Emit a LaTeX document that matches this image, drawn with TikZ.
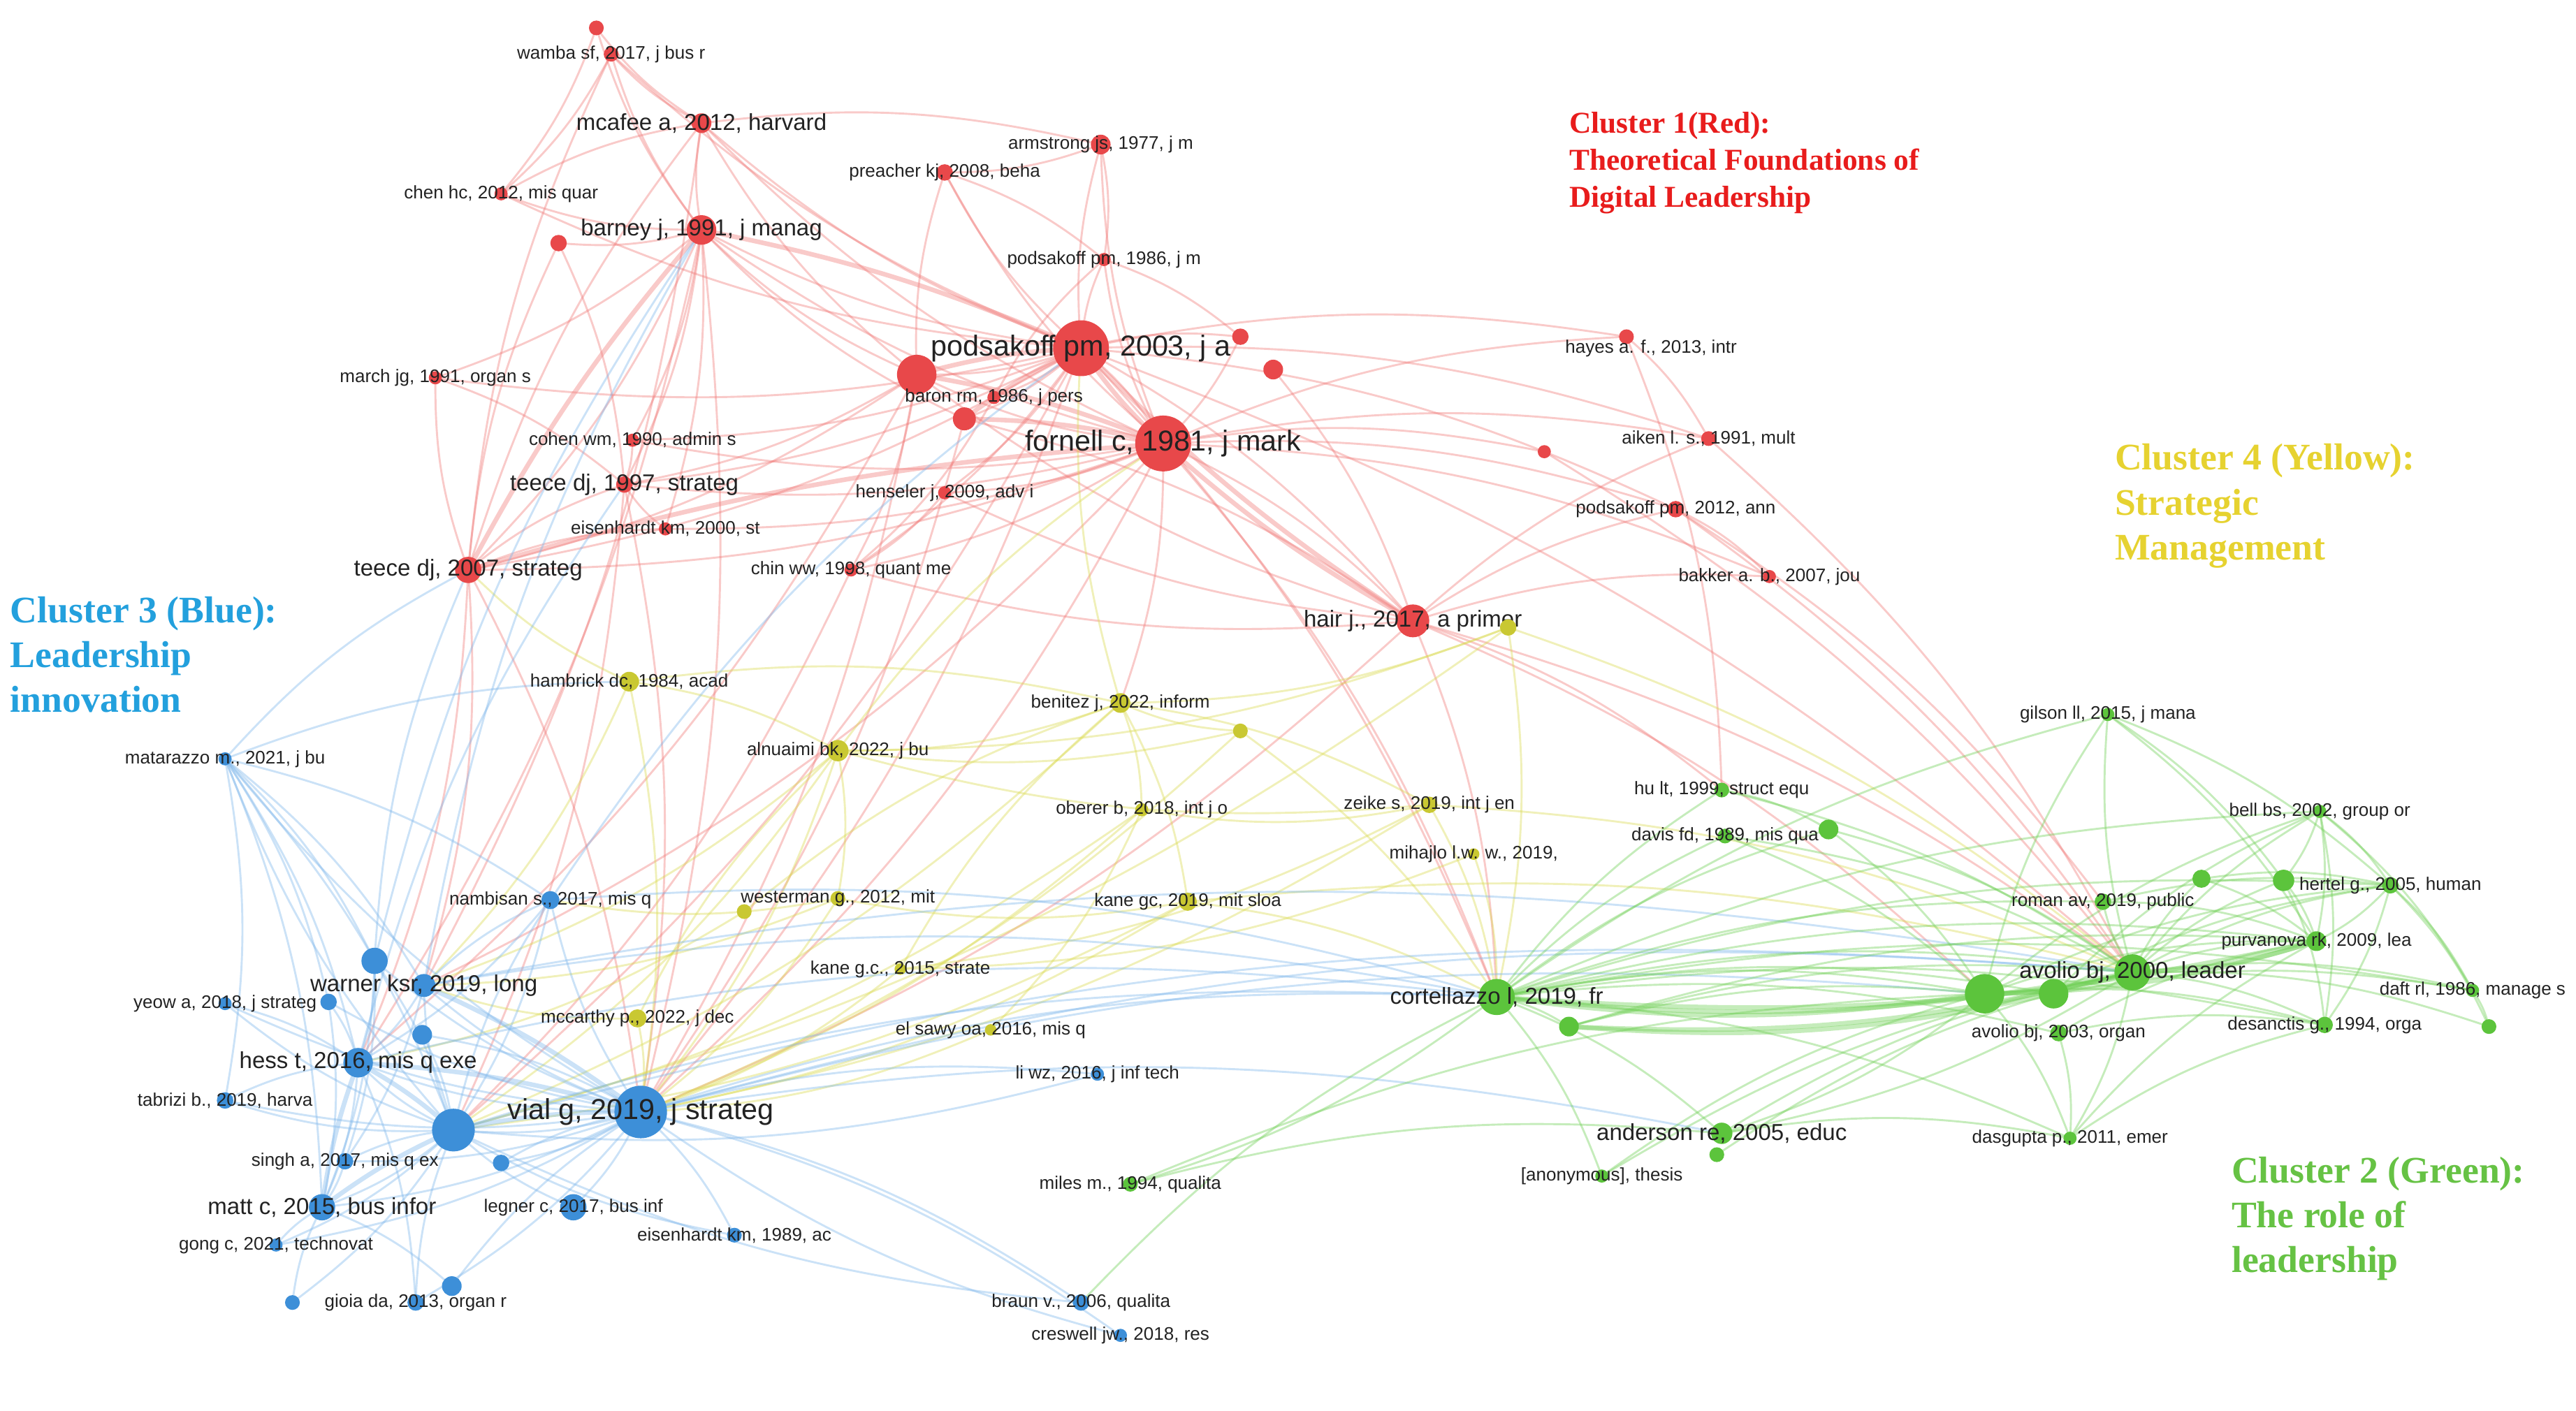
\documentclass[tikz,border=0pt]{standalone}
\usepackage{fontspec}
\setmainfont{Liberation Sans}
\newfontfamily\titlefont{Liberation Serif}
\definecolor{rc}{HTML}{E8484A}\definecolor{re}{HTML}{F07A78}
\definecolor{gc}{HTML}{5CC43C}\definecolor{ge}{HTML}{6FCF55}
\definecolor{bc}{HTML}{3D8FD8}\definecolor{be}{HTML}{7DB6EA}
\definecolor{yc}{HTML}{C9C832}\definecolor{ye}{HTML}{DADA50}
\definecolor{ytitle}{HTML}{E6D230}\definecolor{btitle}{HTML}{23A0DD}
\definecolor{gtitle}{HTML}{66C244}\definecolor{rtitle}{HTML}{E81C1C}
\definecolor{labc}{HTML}{222222}
\newcommand\dotn[7]{\node[circle,fill=#5,inner sep=0pt,minimum size={#4*0.02cm}] (#1) at (#2,#3) {};
 \node[#6] (#1t) at (#2,#3) {#7};}
\begin{document}
\begin{tikzpicture}[x=0.02cm,y=-0.02cm,
 labs/.style={text=labc,font=\fontsize{6.3}{7}\selectfont,inner sep=0pt},
 labm/.style={text=labc,font=\fontsize{8}{9}\selectfont,inner sep=0pt},
 labl/.style={text=labc,font=\fontsize{10}{11}\selectfont,inner sep=0pt},
 nol/.style={inner sep=0pt},
 ed/.style={line width=0.7pt,opacity=0.4},
 edt/.style={line width=1.6pt,opacity=0.4},
 ttl/.style={font=\titlefont\bfseries\fontsize{13}{15.5}\selectfont,align=left,anchor=north west,inner sep=0pt}]
\useasboundingbox (0,0) rectangle (1568,859);
\path
 (363,17) coordinate (r0) (372,33) coordinate (r1) (427,75) coordinate (r2) (670,88) coordinate (r3)
 (575,105) coordinate (r4) (305,118) coordinate (r5) (427,140) coordinate (r6) (340,148) coordinate (r7)
 (672,158) coordinate (r8) (658,212) coordinate (r9) (558,228) coordinate (r10) (755,205) coordinate (r11)
 (775,225) coordinate (r11b) (265,230) coordinate (r12) (605,242) coordinate (r13) (587,255) coordinate (r14)
 (708,270) coordinate (r15) (385,268) coordinate (r16) (990,205) coordinate (r17) (1040,267) coordinate (r18)
 (940,275) coordinate (r19) (380,295) coordinate (r20) (575,300) coordinate (r21) (1020,310) coordinate (r22)
 (405,322) coordinate (r23) (518,347) coordinate (r24) (285,347) coordinate (r25) (1077,351) coordinate (r26)
 (860,378) coordinate (r27)
 (918,382) coordinate (y1) (383,415) coordinate (y2) (682,428) coordinate (y3) (755,445) coordinate (y4)
 (510,457) coordinate (y5) (695,493) coordinate (y6) (870,490) coordinate (y7) (897,520) coordinate (y8)
 (510,547) coordinate (y9) (453,555) coordinate (y10) (723,549) coordinate (y11) (548,590) coordinate (y12)
 (388,620) coordinate (y13) (603,627) coordinate (y14)
 (137,462) coordinate (b1) (335,548) coordinate (b2) (228,585) coordinate (b3) (258,600) coordinate (b4)
 (137,611) coordinate (b5) (200,610) coordinate (b6) (257,630) coordinate (b6b) (218,647) coordinate (b7)
 (668,654) coordinate (b8) (137,670) coordinate (b9) (276,688) coordinate (b10) (390,677) coordinate (b11)
 (210,707) coordinate (b12) (305,708) coordinate (b13) (349,735) coordinate (b14) (196,735) coordinate (b15)
 (447,752) coordinate (b16) (168,758) coordinate (b17) (178,793) coordinate (b18) (275,783) coordinate (b18b)
 (253,793) coordinate (b19) (658,793) coordinate (b20) (682,813) coordinate (b21)
 (1283,435) coordinate (g1) (1048,481) coordinate (g2) (1113,505) coordinate (g3) (1050,509) coordinate (g4)
 (1412,494) coordinate (g5) (1340,535) coordinate (g6) (1390,536) coordinate (g6b) (1280,549) coordinate (g7)
 (1455,539) coordinate (g8) (1410,573) coordinate (g9) (911,607) coordinate (g10) (955,625) coordinate (g11)
 (1298,592) coordinate (g12) (1208,605) coordinate (ga) (1250,605) coordinate (gb) (1505,603) coordinate (g13)
 (1415,624) coordinate (g14) (1515,625) coordinate (g15) (1253,629) coordinate (g16) (1048,690) coordinate (g17)
 (1045,703) coordinate (g18) (975,716) coordinate (g19) (1260,693) coordinate (g20) (688,721) coordinate (g21);
% ---- edges
\foreach \a/\b in {r9/r15,r9/r6,r9/r2,r9/r3,r9/r4,r9/r8,r9/r10,r9/r14,r9/r13,r9/r17,r9/r18,r9/r22,r9/r27,r9/r20,r9/r25,r9/r16,r9/r24,r9/r21,r9/r1,r9/r11,r9/r12,r9/r5,
 r15/r6,r15/r2,r15/r25,r15/r20,r15/r27,r15/r22,r15/r18,r15/r17,r15/r10,r15/r24,r15/r21,r15/r3,r15/r4,r15/r8,r15/r19,r15/r26,r15/r23,r15/r16,
 r6/r2,r6/r1,r6/r5,r6/r7,r6/r12,r6/r20,r6/r25,r6/r16,r6/r23,r6/r0,r25/r20,r25/r23,r25/r12,r25/r7,r25/r2,r25/r1,r2/r0,r2/r1,r2/r3,r3/r4,r3/r8,
 r27/r22,r27/r26,r27/r24,r27/r21,r27/r10,r27/r18,r10/r4,r10/r6,r10/r24,r13/r8,r17/r18,r22/r26,
 r15/g10,r9/g10,r27/g10,r27/g12,r27/ga,r25/b11,r20/b11,r9/b11,r15/b11,r25/b4,r6/b7,r25/b7,r10/b11,r24/b10,r22/g12,r18/g12,r17/g2,
 r10/r25,r10/r20,r10/r2,r14/r6,r14/r27,r11/r15,r11b/r27,r5/r2,r7/r20,r12/r20,r16/r20,r23/r20,r0/r5,r1/r5,r4/r8,r8/r11,r21/r24,r13/r24,
 r15/b4,r9/b10,r6/b11,r20/b10,r10/b7,r14/b11,r2/b4,r27/b11,r15/y3,r9/g12,r27/g2,r22/g7,r19/g12}
 \draw[ed,re] (\a) to[bend left=10] (\b);
\foreach \a/\b in {r9/r15,r9/r10,r15/r10,r9/r6,r15/r27,r9/r27,r6/r25,r15/r25,r9/r14,r15/r14}
 \draw[edt,re] (\a) to[bend right=6] (\b);
\foreach \a/\b in {y3/y5,y3/y11,y3/y7,y5/b11,y9/b11,y11/b11,y11/g10,y7/g10,y6/b11,y2/b11,y13/b11,y12/b11,y14/b11,y1/y3,y1/g10,y4/y3,y5/y9,y8/g10,y2/r25,y5/r15,y3/r9,y7/y6,y4/b11,y1/b10,y2/b4,y10/y3,y8/y12,y6/y14,y7/y12,y2/y5,
 y5/b4,y5/b10,y9/b4,y3/b10,y11/b10,y7/b11,y6/b10,y13/b4,y10/b7,y1/y5,y4/y5,y7/y5,y11/y9,y3/y6,y4/g10,y1/g12,y7/g12,y11/g12,y13/y5,y2/y3,y9/b2,y12/y3}
 \draw[ed,ye] (\a) to[bend left=10] (\b);
\foreach \a/\b in {b11/b10,b11/b4,b11/b7,b11/b2,b11/b1,b11/b5,b11/b9,b11/b12,b11/b15,b11/b17,b11/b19,b11/b14,b11/b16,b11/b8,b11/b20,b11/b3,b11/b21,b11/b6,b11/b13,
 b10/b4,b10/b7,b10/b15,b10/b1,b10/b2,b10/b5,b10/b9,b10/b17,b10/b18,b4/b7,b4/b2,b7/b15,b1/b3,b1/b4,b1/b10,b1/b6,b1/b9,b3/b12,b7/b19,b15/b18b,
 b11/g10,b11/g12,b10/g10,b4/g10,b11/g17,b11/ga,b10/g12,b2/g10,b1/r25,b3/r25,b1/y2,
 b3/b7,b3/b15,b3/b10,b6/b7,b6/b15,b6b/b10,b6b/b11,b5/b7,b9/b7,b12/b15,b12/b10,b13/b11,b14/b10,b16/b10,b17/b15,b18/b15,b18b/b11,b19/b10,b4/b12,b2/b10,b2/b7,b1/b7,b1/b15,b1/b2,
 b20/b10,b21/b11,b8/b10,b4/g12,b7/g10,b2/r9,b4/r6,b7/r20,b3/r6}
 \draw[ed,be] (\a) to[bend left=10] (\b);
\foreach \a/\b in {b11/b10,b10/b7,b11/b7,b11/b4,b10/b15,b7/b15}
 \draw[edt,be] (\a) to[bend right=6] (\b);
\foreach \a/\b in {g10/g12,g10/ga,g10/gb,g10/g16,g10/g17,g10/g19,g10/g21,g10/g2,g10/g4,g10/g1,g10/g7,g10/g11,g10/g20,g10/g14,g10/g9,
 g12/g5,g12/g8,g12/g9,g12/g13,g12/g14,g12/g7,g12/g1,g12/g20,g12/g6,g12/g6b,g12/g15,ga/g5,ga/g9,ga/g14,ga/g20,ga/g17,ga/g1,ga/g8,gb/g13,
 g8/g9,g5/g8,g13/g15,g12/g17,g2/g3,g4/g12,g10/g3,g5/g6b,g6/g9,g1/g9,g17/g20,g21/g17,g19/ga,g11/g12,g3/g12,b20/g10,
 g5/g9,g5/g14,g5/g13,g8/g14,g8/g13,g8/g15,g6/g8,g6b/g9,g6b/g14,g7/g9,g7/g8,g16/g14,g16/g9,gb/g8,gb/g5,g1/g8,g1/g6b,g20/g14,g20/g9,g16/g20,
 g11/ga,g11/g9,g17/g12,g18/g12,g19/g12,g21/ga,g3/ga,g2/g12,g4/ga,g10/g8,g10/g5,g10/g13}
 \draw[ed,ge] (\a) to[bend left=10] (\b);
\foreach \a/\b in {g10/g12,g10/ga,g11/gb,ga/g12,ga/g9,g12/g9,g10/g9,g11/g12}
 \draw[edt,ge] (\a) to[bend right=8] (\b);
% ---- dots and labels
\dotn{n0}{363}{17}{9}{rc}{nol}{}
\dotn{n1}{372}{33}{9}{rc}{labs}{wamba sf, 2017, j bus r}
\dotn{n2}{427}{75}{12}{rc}{labm}{mcafee a, 2012, harvard}
\dotn{n3}{670}{88}{12}{rc}{labs}{armstrong js, 1977, j m}
\dotn{n4}{575}{105}{10}{rc}{labs}{preacher kj, 2008, beha}
\dotn{n5}{305}{118}{8}{rc}{labs}{chen hc, 2012, mis quar}
\dotn{n6}{427}{140}{18}{rc}{labm}{barney j, 1991, j manag}
\dotn{n7}{340}{148}{10}{rc}{nol}{}
\dotn{n8}{672}{158}{8}{rc}{labs}{podsakoff pm, 1986, j m}
\dotn{n10}{558}{228}{24}{rc}{nol}{}
\dotn{n11}{755}{205}{10}{rc}{nol}{}
\dotn{n11b}{775}{225}{12}{rc}{nol}{}
\dotn{n14}{587}{255}{14}{rc}{nol}{}
\dotn{n9}{658}{212}{34}{rc}{labl}{podsakoff pm, 2003, j a}
\dotn{n12}{265}{230}{8}{rc}{labs}{march jg, 1991, organ s}
\dotn{n13}{605}{242}{8}{rc}{labs}{baron rm, 1986, j pers}
\dotn{n15}{708}{270}{34}{rc}{labl}{fornell c, 1981, j mark}
\dotn{n16}{385}{268}{8}{rc}{labs}{cohen wm, 1990, admin s}
\dotn{n17}{990}{205}{9}{rc}{nol}{}
\node[labs] (n17t) at (1005,212) {hayes a. f., 2013, intr};
\dotn{n18}{1040}{267}{9}{rc}{labs}{aiken l. s., 1991, mult}
\dotn{n19}{940}{275}{8}{rc}{nol}{}
\dotn{n20}{380}{295}{10}{rc}{labm}{teece dj, 1997, strateg}
\dotn{n21}{575}{300}{8}{rc}{labs}{henseler j, 2009, adv i}
\dotn{n22}{1020}{310}{10}{rc}{labs}{podsakoff pm, 2012, ann}
\dotn{n23}{405}{322}{8}{rc}{labs}{eisenhardt km, 2000, st}
\dotn{n24}{518}{347}{8}{rc}{labs}{chin ww, 1998, quant me}
\dotn{n25}{285}{347}{16}{rc}{labm}{teece dj, 2007, strateg}
\dotn{n26}{1077}{351}{8}{rc}{labs}{bakker a. b., 2007, jou}
\dotn{n27}{860}{378}{20}{rc}{labm}{hair j., 2017, a primer}
\dotn{m1}{918}{382}{10}{yc}{nol}{}
\dotn{m2}{383}{415}{12}{yc}{labs}{hambrick dc, 1984, acad}
\dotn{m3}{682}{428}{12}{yc}{labs}{benitez j, 2022, inform}
\dotn{m4}{755}{445}{9}{yc}{nol}{}
\dotn{m5}{510}{457}{13}{yc}{labs}{alnuaimi bk, 2022, j bu}
\dotn{m6}{695}{493}{8}{yc}{labs}{oberer b, 2018, int j o}
\dotn{m7}{870}{490}{10}{yc}{labs}{zeike s, 2019, int j en}
\dotn{m8}{897}{520}{7}{yc}{labs}{mihajlo l.w. w., 2019,}
\dotn{m9}{510}{547}{9}{yc}{labs}{westerman g., 2012, mit}
\dotn{m10}{453}{555}{9}{yc}{nol}{}
\dotn{m11}{723}{549}{11}{yc}{labs}{kane gc, 2019, mit sloa}
\dotn{m12}{548}{590}{7}{yc}{labs}{kane g.c., 2015, strate}
\dotn{m13}{388}{620}{11}{yc}{labs}{mccarthy p., 2022, j dec}
\dotn{m14}{603}{627}{7}{yc}{labs}{el sawy oa, 2016, mis q}
\dotn{k1}{137}{462}{8}{bc}{labs}{matarazzo m., 2021, j bu}
\dotn{k2}{335}{548}{11}{bc}{labs}{nambisan s., 2017, mis q}
\dotn{k3}{228}{585}{16}{bc}{nol}{}
\dotn{k6}{200}{610}{10}{bc}{nol}{}
\dotn{k6b}{257}{630}{12}{bc}{nol}{}
\dotn{k4}{258}{600}{14}{bc}{labm}{warner ksr, 2019, long}
\dotn{k5}{137}{611}{8}{bc}{labs}{yeow a, 2018, j strateg}
\dotn{k7}{218}{647}{18}{bc}{labm}{hess t, 2016, mis q exe}
\dotn{k8}{668}{654}{8}{bc}{labs}{li wz, 2016, j inf tech}
\dotn{k9}{137}{670}{10}{bc}{labs}{tabrizi b., 2019, harva}
\dotn{k10}{276}{688}{26}{bc}{nol}{}
\dotn{k11}{390}{677}{32}{bc}{labl}{vial g, 2019, j strateg}
\dotn{k13}{305}{708}{10}{bc}{nol}{}
\dotn{k12}{210}{707}{10}{bc}{labs}{singh a, 2017, mis q ex}
\dotn{k14}{349}{735}{16}{bc}{labs}{legner c, 2017, bus inf}
\dotn{k15}{196}{735}{16}{bc}{labm}{matt c, 2015, bus infor}
\dotn{k16}{447}{752}{9}{bc}{labs}{eisenhardt km, 1989, ac}
\dotn{k17}{168}{758}{8}{bc}{labs}{gong c, 2021, technovat}
\dotn{k18}{178}{793}{9}{bc}{nol}{}
\dotn{k18b}{275}{783}{12}{bc}{nol}{}
\dotn{k19}{253}{793}{10}{bc}{labs}{gioia da, 2013, organ r}
\dotn{k20}{658}{793}{10}{bc}{labs}{braun v., 2006, qualita}
\dotn{k21}{682}{813}{8}{bc}{labs}{creswell jw., 2018, res}
\dotn{h1}{1283}{435}{8}{gc}{labs}{gilson ll, 2015, j mana}
\dotn{h2}{1048}{481}{9}{gc}{labs}{hu lt, 1999, struct equ}
\dotn{h3}{1113}{505}{12}{gc}{nol}{}
\dotn{h4}{1050}{509}{9}{gc}{labs}{davis fd, 1989, mis qua}
\dotn{h5}{1412}{494}{8}{gc}{labs}{bell bs, 2002, group or}
\dotn{h6}{1340}{535}{11}{gc}{nol}{}
\dotn{h6b}{1390}{536}{13}{gc}{nol}{}
\dotn{h7}{1280}{549}{10}{gc}{labs}{roman av, 2019, public}
\dotn{h8}{1455}{539}{10}{gc}{labs}{hertel g., 2005, human}
\dotn{h9}{1410}{573}{12}{gc}{labs}{purvanova rk, 2009, lea}
\dotn{h11}{955}{625}{12}{gc}{nol}{}
\dotn{h10}{911}{607}{22}{gc}{labm}{cortellazzo l, 2019, fr}
\dotn{ha}{1208}{605}{24}{gc}{nol}{}
\dotn{hb}{1250}{605}{18}{gc}{nol}{}
\dotn{h12}{1298}{592}{22}{gc}{labm}{avolio bj, 2000, leader}
\dotn{h13}{1505}{603}{8}{gc}{labs}{daft rl, 1986, manage s}
\dotn{h14}{1415}{624}{10}{gc}{labs}{desanctis g., 1994, orga}
\dotn{h15}{1515}{625}{9}{gc}{nol}{}
\dotn{h16}{1253}{629}{10}{gc}{labs}{avolio bj, 2003, organ}
\dotn{h18}{1045}{703}{9}{gc}{nol}{}
\dotn{h17}{1048}{690}{13}{gc}{labm}{anderson re, 2005, educ}
\dotn{h19}{975}{716}{8}{gc}{labs}{[anonymous], thesis}
\dotn{h20}{1260}{693}{8}{gc}{labs}{dasgupta p., 2011, emer}
\dotn{h21}{688}{721}{9}{gc}{labs}{miles m., 1994, qualita}
% ---- cluster titles
\node[ttl,text=rtitle,font=\titlefont\bfseries\fontsize{10.5}{12.8}\selectfont] (t1) at (955,68) {Cluster 1(Red):\\Theoretical Foundations of\\Digital Leadership};
\node[ttl,text=ytitle] (t4) at (1287,270) {Cluster 4 (Yellow):\\Strategic\\Management};
\node[ttl,text=btitle] (t3) at (6,363) {Cluster 3 (Blue):\\Leadership\\innovation};
\node[ttl,text=gtitle] (t2) at (1358,704) {Cluster 2 (Green):\\The role of\\leadership};
\end{tikzpicture}
\end{document}
